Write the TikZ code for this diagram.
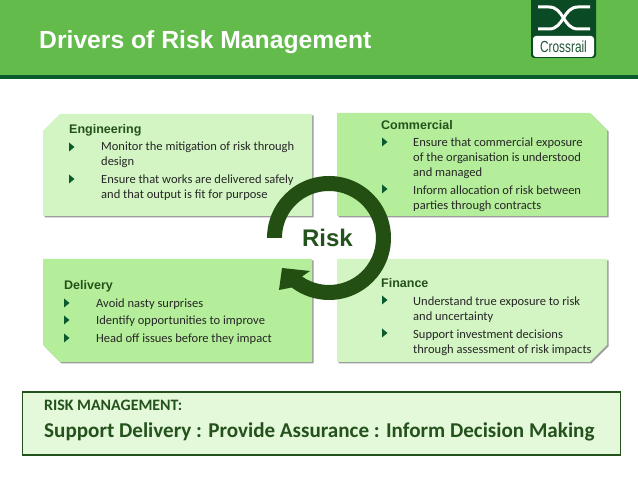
\documentclass[tikz,border=0pt]{standalone}
\usepackage{fontspec}
\setmainfont{Carlito}
\newfontfamily\headfont{Liberation Sans}
\usepackage{xcolor}
\usetikzlibrary{shadows}
\definecolor{barGreen}{HTML}{62BB4B}
\definecolor{barDark}{HTML}{0B5A2E}
\definecolor{logoDark}{HTML}{0A4A25}
\definecolor{paleGreen}{HTML}{D3F5C3}
\definecolor{midGreen}{HTML}{B5EE9B}
\definecolor{palestGreen}{HTML}{E4F8DA}
\definecolor{ringDark}{HTML}{234F12}
\definecolor{textDark}{HTML}{24521C}
\definecolor{bodyText}{HTML}{262626}
\tikzset{
  riskbox/.style={drop shadow={shadow xshift=1.5pt,shadow yshift=-1.5pt,fill=black!55,opacity=.7}},
  boxhead/.style={anchor=west,inner sep=0pt,text=textDark,font=\headfont\bfseries\fontsize{12.5}{15}\selectfont},
  boxitem/.style={anchor=west,inner sep=0pt,align=left,text=bodyText,font=\fontsize{12.5}{15}\selectfont},
}
\begin{document}
\begin{tikzpicture}[x=1pt,y=1pt]
\useasboundingbox (0,0) rectangle (638,478);

% Title bar
\fill[barGreen] (0,403) rectangle (638,478);
\fill[barDark] (0,399) rectangle (638,403);
\node[anchor=west,inner sep=0pt,text=white,font=\headfont\bfseries\fontsize{24.7}{28}\selectfont] (title) at (39,435.5) {Drivers of Risk Management};

% Logo
\fill[logoDark,rounded corners=3pt] (531,420) rectangle (596,490);
\fill[white,rounded corners=3pt] (533,421) rectangle (594,442);
\draw[white,line width=3pt] (538,471) -- (549,471) .. controls (564,471) and (563,449) .. (578,449) -- (590,449);
\draw[white,line width=3pt] (538,449) -- (549,449) .. controls (564,449) and (563,471) .. (578,471) -- (590,471);
\node[inner sep=0pt,xscale=.74,text=logoDark!80!gray,font=\headfont\fontsize{16}{16}\selectfont] (logo) at (563.5,431) {Crossrail};

% Four boxes
\fill[riskbox,paleGreen] (60,364) -- (312,364) -- (312,262) -- (43,262) -- (43,347) -- cycle;
\fill[riskbox,midGreen] (337,365) -- (590,365) -- (607,348) -- (607,262) -- (337,262) -- cycle;
\fill[riskbox,midGreen] (43,219) -- (312,219) -- (312,116) -- (60,116) -- (43,133) -- cycle;
\fill[riskbox,paleGreen] (337,219) -- (607,219) -- (607,133) -- (590,116) -- (337,116) -- cycle;

% Headings
\node[boxhead] (enghead) at (69,348) {Engineering};
\node[boxhead] (comhead) at (381,353) {Commercial};
\node[boxhead] (delhead) at (64,192) {Delivery};
\node[boxhead] (finhead) at (381,194.5) {Finance};

% Bullets
\foreach \bx/\by in {69/331,69/299,382/336,382/289,64/175,64/158,64/140,382/178,382/145}
  \fill[barDark] (\bx,\by+4.5) -- (\bx+5.5,\by) -- (\bx,\by-4.5) -- cycle;

% Items
\node[boxitem] (eng1) at (101,323) {Monitor the mitigation of risk through\\design};
\node[boxitem] (eng2) at (101,290.5) {Ensure that works are delivered safely\\and that output is fit for purpose};
\node[boxitem] (com1) at (413,320) {Ensure that commercial exposure\\of the organisation is understood\\and managed};
\node[boxitem] (com2) at (413,279.5) {Inform allocation of risk between\\parties through contracts};
\node[boxitem] (del1) at (96,174) {Avoid nasty surprises};
\node[boxitem] (del2) at (96,156.5) {Identify opportunities to improve};
\node[boxitem] (del3) at (96,139) {Head off issues before they impact};
\node[boxitem] (fin1) at (413,168.5) {Understand true exposure to risk\\and uncertainty};
\node[boxitem] (fin2) at (413,135.5) {Support investment decisions\\through assessment of risk impacts};

% Ring arrow
\fill[ringDark] (267,240) arc[start angle=180,end angle=-127,radius=62]
  -- (279,188) -- (282,210) -- (310,207) -- (302,201.5)
  arc[start angle=-125,end angle=180,radius=47] -- cycle;
\node[inner sep=0pt,text=textDark,font=\headfont\bfseries\fontsize{24}{28}\selectfont] (risk) at (327.5,240) {Risk};

% Bottom strip
\node[draw=textDark,line width=1.4pt,fill=palestGreen,inner sep=0pt,minimum width=598pt,minimum height=63pt] (strip) at (321.5,54.5) {};
\node[anchor=west,inner sep=0pt,text=textDark,font=\bfseries\fontsize{15.9}{18}\selectfont] (striphead) at (44,72.5) {RISK MANAGEMENT:};
\node[anchor=west,inner sep=0pt,text=textDark,font=\bfseries\fontsize{21.1}{26}\selectfont] (stripline) at (44,46.5) {Support Delivery : Provide Assurance : Inform Decision Making};
\end{tikzpicture}
\end{document}
